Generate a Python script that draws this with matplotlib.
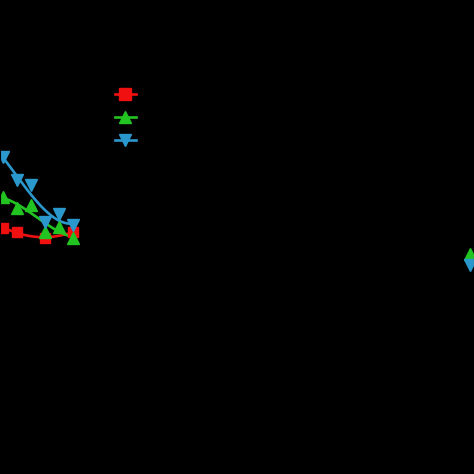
import matplotlib.pyplot as plt
import numpy as np

# data (x = dose step, y = response)
x_red = [0, 1, 3, 5]
y_red = [51.9, 51.1, 49.8, 51.1]

x_steps = [0, 1, 2, 3, 4, 5]
y_green = [58.4, 56.1, 56.8, 51.1, 52.1, 49.8]
y_blue = [66.9, 62.0, 61.0, 53.2, 54.9, 52.5]

# the lone points at the far right edge
x_far = [33.36]
y_far_green = [46.4]
y_far_blue = [44.1]

labels = ["Series 1", "Series 2", "Series 3"]
c_red = "#f01010"
c_green = "#22c422"
c_blue = "#2a98cc"

fig = plt.figure(figsize=(4.74, 4.74), dpi=100, facecolor="black")
ax = fig.add_axes([0, 0, 1, 1])
ax.set_facecolor("black")

# smooth fitted curves
xs = np.linspace(0, 5, 200)
fit_r = np.polyval(np.polyfit(x_red, y_red, 2), xs)
fit_g = np.polyval(np.polyfit(x_steps, y_green, 3), xs)
fit_b = np.polyval(np.polyfit(x_steps, y_blue, 3), xs)

ax.plot(xs, fit_r, color=c_red, lw=1.9)
ax.plot(xs, fit_g, color=c_green, lw=1.9)
ax.plot(xs, fit_b, color=c_blue, lw=1.9)

ax.plot(x_red, y_red, "s", color=c_red, ms=7.2, label=labels[0])
ax.plot(x_steps, y_green, "^", color=c_green, ms=8, label=labels[1])
ax.plot(x_steps, y_blue, "v", color=c_blue, ms=8, label=labels[2])
ax.plot(x_far, y_far_green, "^", color=c_green, ms=8)
ax.plot(x_far, y_far_blue, "v", color=c_blue, ms=8)

ax.set_xlim(-3 / 14, 471 / 14)
ax.set_ylim(0, 100)
for s in ax.spines.values():
    s.set_color("black")
ax.set_xticks([])
ax.set_yticks([])

# legend handles with line through the marker
h = [plt.Line2D([], [], color=c, marker=m, ms=8, lw=1.9)
     for c, m in [(c_red, "s"), (c_green, "^"), (c_blue, "v")]]
leg = ax.legend(h, labels, loc="upper left", bbox_to_anchor=(0.231, 0.827),
                bbox_transform=fig.transFigure, frameon=False, fontsize=10,
                handlelength=1.5, labelspacing=0.65, borderaxespad=0,
                labelcolor="black")

plt.savefig("out.png", dpi=100, facecolor="black")
